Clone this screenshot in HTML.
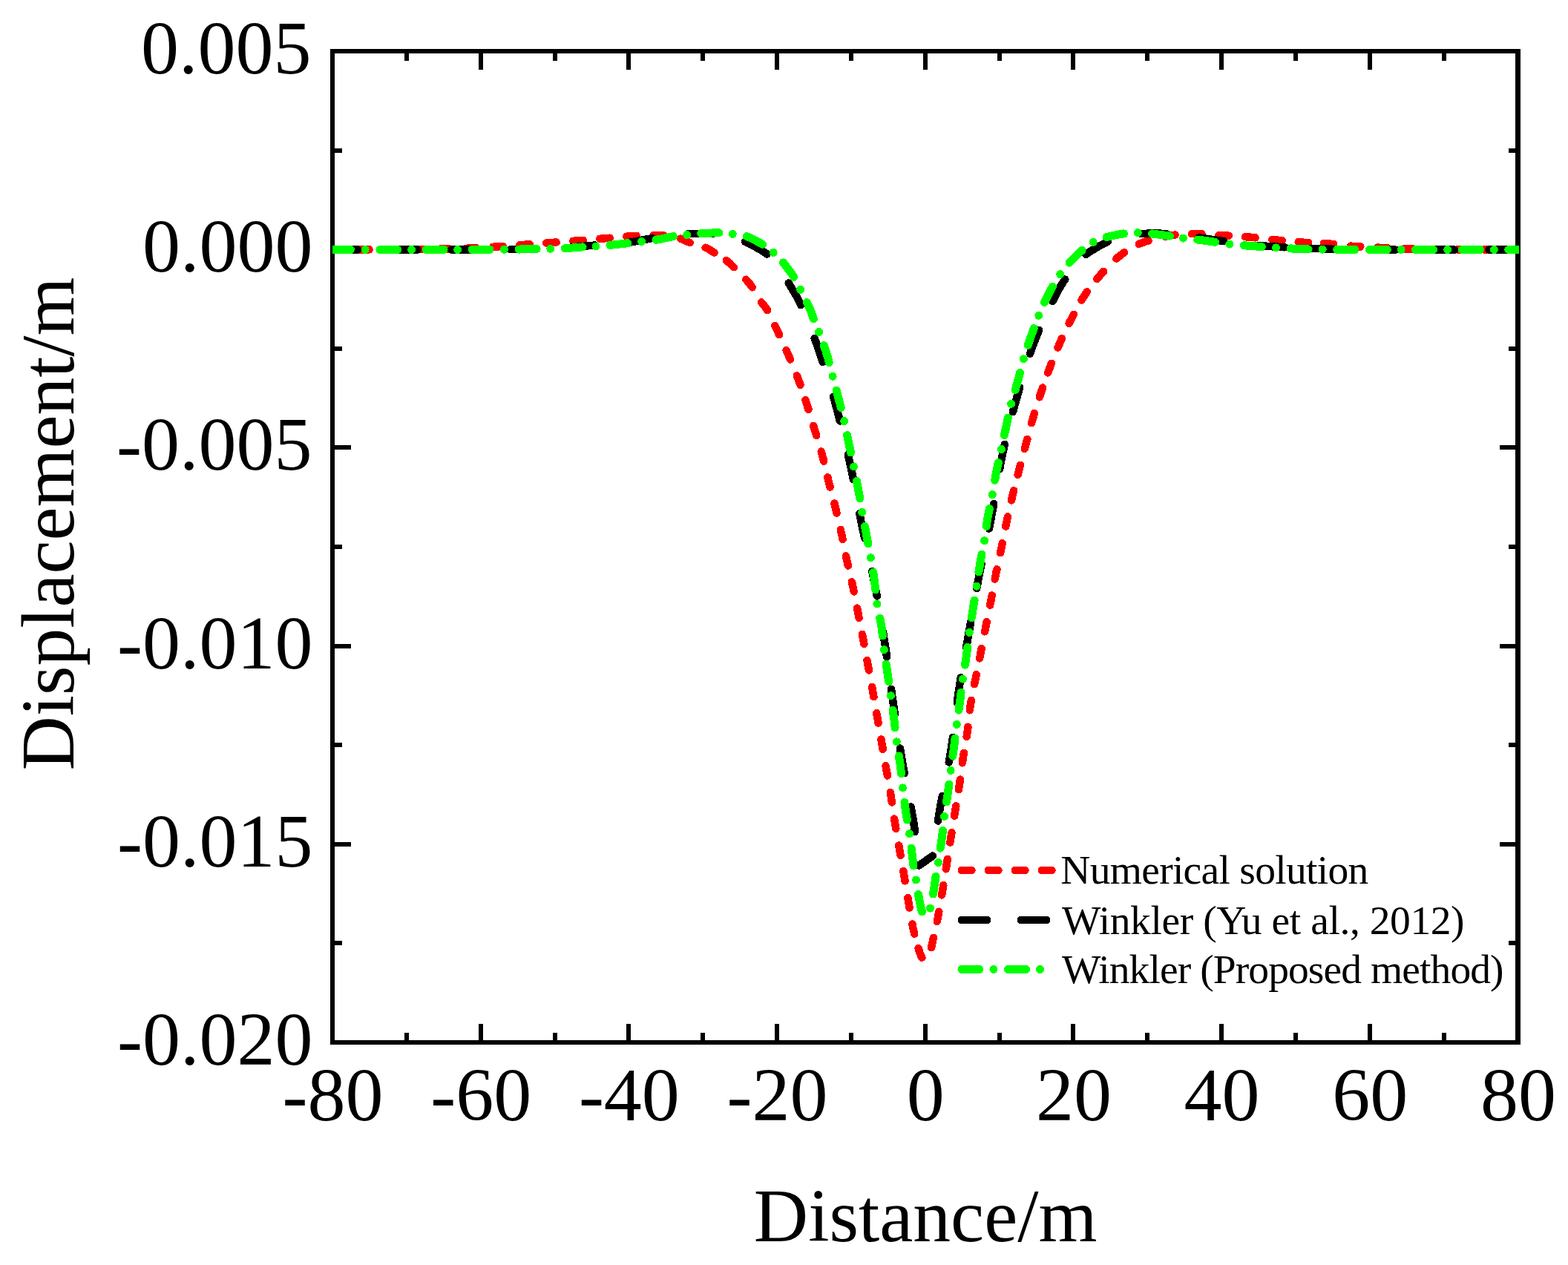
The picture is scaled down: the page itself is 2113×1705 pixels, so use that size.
<!DOCTYPE html>
<html><head><meta charset="utf-8"><title>Displacement vs Distance</title>
<style>
html,body{margin:0;padding:0;background:#fff;}
body{width:2113px;height:1705px;overflow:hidden;}
svg{display:block;}
text{font-family:"Liberation Serif","Times New Roman",serif;fill:#000;}
</style></head>
<body>
<svg width="2113" height="1705" viewBox="0 0 2113 1705" shape-rendering="crispEdges">
<rect width="2113" height="1705" fill="#fff"/>
<defs><clipPath id="pc"><rect x="448.0" y="0" width="1599.0" height="1705"/></clipPath></defs>
<g stroke="#000" stroke-width="6" fill="none">
<path d="M448.0,66.0V1408.0M445.0,69.0H2049.0M445.0,1405.0H2049.0"/><line x1="2045.5" y1="66.0" x2="2045.5" y2="1408.0" stroke-width="7"/>
<line x1="448.00" y1="1405.0" x2="448.00" y2="1380.0"/><line x1="448.00" y1="69.0" x2="448.00" y2="94.0"/><line x1="647.69" y1="1405.0" x2="647.69" y2="1380.0"/><line x1="647.69" y1="69.0" x2="647.69" y2="94.0"/><line x1="847.38" y1="1405.0" x2="847.38" y2="1380.0"/><line x1="847.38" y1="69.0" x2="847.38" y2="94.0"/><line x1="1047.06" y1="1405.0" x2="1047.06" y2="1380.0"/><line x1="1047.06" y1="69.0" x2="1047.06" y2="94.0"/><line x1="1246.75" y1="1405.0" x2="1246.75" y2="1380.0"/><line x1="1246.75" y1="69.0" x2="1246.75" y2="94.0"/><line x1="1446.44" y1="1405.0" x2="1446.44" y2="1380.0"/><line x1="1446.44" y1="69.0" x2="1446.44" y2="94.0"/><line x1="1646.12" y1="1405.0" x2="1646.12" y2="1380.0"/><line x1="1646.12" y1="69.0" x2="1646.12" y2="94.0"/><line x1="1845.81" y1="1405.0" x2="1845.81" y2="1380.0"/><line x1="1845.81" y1="69.0" x2="1845.81" y2="94.0"/><line x1="2045.50" y1="1405.0" x2="2045.50" y2="1380.0"/><line x1="2045.50" y1="69.0" x2="2045.50" y2="94.0"/><line x1="547.84" y1="1405.0" x2="547.84" y2="1392.0"/><line x1="547.84" y1="69.0" x2="547.84" y2="82.0"/><line x1="747.53" y1="1405.0" x2="747.53" y2="1392.0"/><line x1="747.53" y1="69.0" x2="747.53" y2="82.0"/><line x1="947.22" y1="1405.0" x2="947.22" y2="1392.0"/><line x1="947.22" y1="69.0" x2="947.22" y2="82.0"/><line x1="1146.91" y1="1405.0" x2="1146.91" y2="1392.0"/><line x1="1146.91" y1="69.0" x2="1146.91" y2="82.0"/><line x1="1346.59" y1="1405.0" x2="1346.59" y2="1392.0"/><line x1="1346.59" y1="69.0" x2="1346.59" y2="82.0"/><line x1="1546.28" y1="1405.0" x2="1546.28" y2="1392.0"/><line x1="1546.28" y1="69.0" x2="1546.28" y2="82.0"/><line x1="1745.97" y1="1405.0" x2="1745.97" y2="1392.0"/><line x1="1745.97" y1="69.0" x2="1745.97" y2="82.0"/><line x1="1945.66" y1="1405.0" x2="1945.66" y2="1392.0"/><line x1="1945.66" y1="69.0" x2="1945.66" y2="82.0"/><line x1="448.0" y1="69.00" x2="473.0" y2="69.00"/><line x1="2045.5" y1="69.00" x2="2020.5" y2="69.00"/><line x1="448.0" y1="336.20" x2="473.0" y2="336.20"/><line x1="2045.5" y1="336.20" x2="2020.5" y2="336.20"/><line x1="448.0" y1="603.40" x2="473.0" y2="603.40"/><line x1="2045.5" y1="603.40" x2="2020.5" y2="603.40"/><line x1="448.0" y1="870.60" x2="473.0" y2="870.60"/><line x1="2045.5" y1="870.60" x2="2020.5" y2="870.60"/><line x1="448.0" y1="1137.80" x2="473.0" y2="1137.80"/><line x1="2045.5" y1="1137.80" x2="2020.5" y2="1137.80"/><line x1="448.0" y1="1405.00" x2="473.0" y2="1405.00"/><line x1="2045.5" y1="1405.00" x2="2020.5" y2="1405.00"/><line x1="448.0" y1="202.60" x2="461.0" y2="202.60"/><line x1="2045.5" y1="202.60" x2="2032.5" y2="202.60"/><line x1="448.0" y1="469.80" x2="461.0" y2="469.80"/><line x1="2045.5" y1="469.80" x2="2032.5" y2="469.80"/><line x1="448.0" y1="737.00" x2="461.0" y2="737.00"/><line x1="2045.5" y1="737.00" x2="2032.5" y2="737.00"/><line x1="448.0" y1="1004.20" x2="461.0" y2="1004.20"/><line x1="2045.5" y1="1004.20" x2="2032.5" y2="1004.20"/><line x1="448.0" y1="1271.40" x2="461.0" y2="1271.40"/><line x1="2045.5" y1="1271.40" x2="2032.5" y2="1271.40"/>
</g>
<g clip-path="url(#pc)" fill="none" stroke-linecap="round" stroke-linejoin="round">
<path d="M448.0 336.5L450.0 336.5L452.0 336.5L454.0 336.5L456.0 336.5L458.0 336.5L460.0 336.5L461.5 336.5M484.1 336.5L486.1 336.5L488.1 336.5L490.1 336.5L492.1 336.5L494.1 336.5L496.1 336.5L497.6 336.4M520.1 336.4L522.1 336.4L524.1 336.4L526.1 336.4L528.1 336.4L530.1 336.4L532.1 336.3L533.6 336.3M556.2 336.1L558.2 336.1L560.2 336.1L562.2 336.1L564.2 336.1L566.2 336.0L568.2 336.0L569.7 336.0M592.2 335.7L594.2 335.7L596.2 335.7L598.2 335.6L600.2 335.6L602.2 335.6L604.2 335.5L605.7 335.5M628.3 334.8L630.3 334.7L632.3 334.6L634.3 334.5L636.2 334.4L638.2 334.3L640.2 334.2L641.7 334.2M664.3 332.8L666.3 332.7L668.3 332.6L670.3 332.4L672.2 332.3L674.2 332.2L676.2 332.1L677.7 331.9M700.3 330.3L702.3 330.2L704.3 330.0L706.3 329.9L708.2 329.7L710.2 329.6L712.2 329.4L713.7 329.3M736.3 327.5L738.3 327.4L740.3 327.2L742.3 327.1L744.2 326.9L746.2 326.8L748.2 326.6L749.7 326.5M772.3 324.8L774.3 324.7L776.3 324.5L778.3 324.4L780.2 324.2L782.2 324.0L784.2 323.9L785.7 323.8M808.3 321.9L810.3 321.7L812.3 321.5L814.3 321.4L816.2 321.2L818.2 321.0L820.2 320.9L821.7 320.7M844.3 318.8L846.3 318.6L848.3 318.5L850.3 318.4L852.2 318.2L854.2 318.1L856.2 317.9L857.7 317.8M880.9 316.8L882.9 316.8L884.9 316.9L886.9 316.9L888.9 317.0L890.9 317.1L892.9 317.3L894.4 317.4M917.2 321.6L919.1 322.3L920.9 323.1L922.7 324.0L924.5 324.9L926.3 325.7L928.2 326.5L929.6 327.0M950.7 333.7L952.6 334.5L954.3 335.4L956.1 336.4L957.8 337.5L959.4 338.6L961.1 339.7L962.4 340.5M978.9 351.0L980.5 352.3L982.0 353.6L983.5 354.9L984.9 356.4L986.3 357.8L987.7 359.2L988.8 360.3M1005.3 376.7L1006.7 378.2L1008.0 379.7L1009.3 381.2L1010.6 382.8L1011.7 384.4L1012.9 386.1L1013.7 387.3M1026.0 407.4L1027.2 409.0L1028.4 410.6L1029.7 412.1L1031.0 413.6L1032.2 415.2L1033.3 416.9L1034.1 418.1M1044.3 438.9L1045.2 440.7L1046.0 442.5L1046.9 444.3L1047.7 446.1L1048.6 447.9L1049.4 449.8L1050.1 451.1M1059.6 472.1L1060.4 473.9L1061.2 475.8L1062.0 477.6L1062.8 479.4L1063.6 481.3L1064.4 483.1L1064.9 484.5M1073.8 506.2L1074.5 508.1L1075.2 509.9L1075.9 511.8L1076.6 513.7L1077.3 515.5L1078.0 517.4L1078.5 518.8M1085.3 539.1L1085.9 541.0L1086.6 542.9L1087.2 544.8L1087.8 546.7L1088.4 548.6L1089.0 550.5L1089.5 551.9M1096.2 573.9L1096.8 575.9L1097.4 577.8L1098.0 579.7L1098.6 581.6L1099.1 583.5L1099.7 585.4L1100.2 586.9M1106.7 608.6L1107.2 610.5L1107.8 612.4L1108.3 614.4L1108.8 616.3L1109.3 618.2L1109.8 620.2L1110.2 621.6M1115.3 643.3L1115.8 645.3L1116.2 647.2L1116.7 649.2L1117.2 651.1L1117.7 653.1L1118.2 655.0L1118.6 656.4M1124.4 678.4L1124.8 680.3L1125.3 682.2L1125.8 684.2L1126.3 686.1L1126.8 688.1L1127.2 690.0L1127.6 691.5M1132.8 713.9L1133.2 715.9L1133.6 717.8L1134.0 719.8L1134.5 721.7L1134.9 723.7L1135.3 725.6L1135.6 727.1M1140.0 749.3L1140.4 751.3L1140.8 753.2L1141.2 755.2L1141.7 757.1L1142.1 759.1L1142.5 761.0L1142.9 762.5M1147.9 784.2L1148.3 786.2L1148.7 788.1L1149.1 790.1L1149.6 792.0L1150.0 794.0L1150.4 795.9L1150.7 797.4M1155.0 819.6L1155.4 821.5L1155.8 823.5L1156.2 825.5L1156.5 827.4L1156.9 829.4L1157.3 831.4L1157.6 832.8M1161.9 854.9L1162.3 856.8L1162.7 858.8L1163.1 860.8L1163.4 862.7L1163.8 864.7L1164.2 866.7L1164.4 868.1M1168.5 890.2L1168.8 892.1L1169.2 894.1L1169.6 896.1L1169.9 898.0L1170.3 900.0L1170.7 902.0L1170.9 903.4M1175.1 926.0L1175.5 927.9L1175.8 929.9L1176.2 931.9L1176.5 933.8L1176.9 935.8L1177.2 937.8L1177.5 939.2M1181.3 961.2L1181.6 963.2L1181.9 965.2L1182.3 967.2L1182.6 969.1L1183.0 971.1L1183.3 973.1L1183.6 974.5M1187.4 996.6L1187.8 998.5L1188.1 1000.5L1188.5 1002.5L1188.8 1004.4L1189.2 1006.4L1189.5 1008.4L1189.7 1009.9M1193.6 1032.1L1193.9 1034.1L1194.2 1036.1L1194.6 1038.1L1194.9 1040.0L1195.3 1042.0L1195.6 1044.0L1195.9 1045.5M1199.8 1068.0L1200.1 1070.0L1200.5 1072.0L1200.8 1074.0L1201.1 1075.9L1201.4 1077.9L1201.7 1079.9L1201.9 1081.4M1205.2 1103.6L1205.5 1105.6L1205.8 1107.6L1206.1 1109.6L1206.4 1111.5L1206.7 1113.5L1207.1 1115.5L1207.3 1117.0M1211.2 1139.5L1211.6 1141.4L1211.9 1143.4L1212.3 1145.4L1212.6 1147.3L1213.0 1149.3L1213.3 1151.3L1213.6 1152.8M1217.3 1174.0L1217.6 1176.0L1217.9 1178.0L1218.3 1180.0L1218.6 1181.9L1218.9 1183.9L1219.3 1185.9L1219.5 1187.4M1223.4 1210.2L1223.7 1212.2L1224.0 1214.2L1224.4 1216.2L1224.7 1218.1L1225.0 1220.1L1225.4 1222.1L1225.6 1223.6M1229.4 1245.4L1229.7 1247.3L1230.1 1249.3L1230.5 1251.3L1231.0 1253.2L1231.4 1255.2L1231.9 1257.1L1232.2 1258.6M1237.6 1278.2L1238.2 1280.1L1238.8 1282.0L1239.4 1283.9L1240.1 1285.8L1240.8 1287.6L1241.7 1289.4L1242.4 1290.7M1255.1 1277.1L1255.5 1275.1L1255.9 1273.1L1256.3 1271.2L1256.8 1269.2L1257.2 1267.3L1257.6 1265.3L1257.9 1263.8M1262.8 1241.9L1263.2 1240.0L1263.6 1238.0L1264.0 1236.0L1264.3 1234.1L1264.7 1232.1L1265.1 1230.1L1265.3 1228.7M1269.1 1206.4L1269.4 1204.4L1269.8 1202.4L1270.1 1200.4L1270.4 1198.5L1270.7 1196.5L1271.0 1194.5L1271.3 1193.0M1274.7 1171.3L1275.1 1169.3L1275.4 1167.3L1275.7 1165.3L1276.0 1163.4L1276.3 1161.4L1276.6 1159.4L1276.8 1157.9M1280.3 1135.6L1280.7 1133.6L1281.0 1131.6L1281.3 1129.6L1281.6 1127.7L1281.9 1125.7L1282.2 1123.7L1282.5 1122.2M1286.1 1099.8L1286.4 1097.8L1286.8 1095.8L1287.1 1093.8L1287.4 1091.9L1287.7 1089.9L1288.0 1087.9L1288.3 1086.4M1291.9 1064.1L1292.2 1062.1L1292.5 1060.1L1292.8 1058.1L1293.1 1056.2L1293.4 1054.2L1293.6 1052.2L1293.9 1050.7M1296.8 1028.3L1297.1 1026.3L1297.4 1024.3L1297.7 1022.3L1298.0 1020.4L1298.3 1018.4L1298.6 1016.4L1298.9 1014.9M1302.6 993.1L1302.9 991.1L1303.2 989.1L1303.5 987.1L1303.8 985.2L1304.0 983.2L1304.3 981.2L1304.4 979.7M1306.8 957.3L1307.0 955.3L1307.3 953.3L1307.6 951.3L1307.9 949.4L1308.2 947.4L1308.6 945.4L1308.8 943.9M1313.1 922.3L1313.5 920.3L1313.9 918.4L1314.3 916.4L1314.7 914.5L1315.1 912.5L1315.5 910.5L1315.8 909.1M1320.1 887.4L1320.5 885.5L1320.9 883.5L1321.3 881.5L1321.6 879.6L1322.0 877.6L1322.4 875.6L1322.7 874.2M1327.1 851.3L1327.5 849.4L1327.9 847.4L1328.3 845.4L1328.6 843.5L1329.0 841.5L1329.4 839.5L1329.7 838.1M1334.1 815.7L1334.5 813.8L1334.9 811.8L1335.3 809.8L1335.6 807.9L1336.0 805.9L1336.4 803.9L1336.7 802.5M1340.7 780.5L1341.1 778.6L1341.5 776.6L1341.9 774.6L1342.2 772.7L1342.6 770.7L1343.1 768.8L1343.4 767.3M1348.1 745.3L1348.5 743.3L1348.9 741.4L1349.3 739.4L1349.8 737.5L1350.1 735.5L1350.5 733.6L1350.8 732.1M1355.2 709.6L1355.6 707.7L1356.0 705.7L1356.4 703.7L1356.9 701.8L1357.3 699.8L1357.7 697.9L1358.0 696.4M1362.9 674.4L1363.4 672.4L1363.9 670.5L1364.3 668.5L1364.8 666.6L1365.3 664.6L1365.7 662.7L1366.1 661.2M1371.6 639.9L1372.1 638.0L1372.6 636.1L1373.1 634.1L1373.6 632.2L1374.1 630.3L1374.6 628.3L1375.0 626.9M1380.8 604.9L1381.3 603.0L1381.9 601.0L1382.4 599.1L1382.9 597.2L1383.4 595.2L1383.9 593.3L1384.3 591.9M1390.1 570.1L1390.7 568.2L1391.2 566.2L1391.8 564.3L1392.4 562.4L1392.9 560.5L1393.5 558.6L1393.9 557.1M1400.8 535.3L1401.4 533.4L1402.0 531.5L1402.7 529.6L1403.3 527.7L1403.9 525.8L1404.6 523.9L1405.1 522.5M1412.1 502.4L1412.8 500.5L1413.5 498.7L1414.2 496.8L1414.9 494.9L1415.7 493.1L1416.4 491.2L1416.9 489.8M1425.5 468.5L1426.3 466.7L1427.1 464.8L1427.9 463.0L1428.7 461.2L1429.5 459.3L1430.3 457.5L1431.0 456.1M1440.7 435.8L1441.6 434.0L1442.5 432.2L1443.5 430.5L1444.4 428.7L1445.3 426.9L1446.2 425.1L1446.9 423.8M1457.4 404.6L1458.4 402.9L1459.5 401.2L1460.6 399.5L1461.7 397.9L1462.8 396.2L1463.9 394.5L1464.8 393.3M1478.2 376.0L1479.5 374.5L1480.8 373.0L1482.1 371.5L1483.4 370.0L1484.8 368.5L1486.1 367.0L1487.1 365.9M1504.4 348.6L1505.9 347.3L1507.5 346.0L1509.0 344.8L1510.6 343.5L1512.2 342.3L1513.8 341.1L1515.0 340.2M1534.8 328.9L1536.7 328.1L1538.5 327.4L1540.4 326.7L1542.3 326.0L1544.2 325.4L1546.1 324.8L1547.5 324.3M1570.3 318.8L1572.2 318.4L1574.2 318.1L1576.2 317.7L1578.1 317.4L1580.1 317.1L1582.1 316.8L1583.6 316.6M1606.1 315.1L1608.1 315.0L1610.1 315.0L1612.1 315.0L1614.0 315.0L1616.0 315.0L1618.0 315.1L1619.5 315.1M1642.5 316.8L1644.5 317.0L1646.5 317.1L1648.5 317.3L1650.4 317.4L1652.4 317.5L1654.4 317.6L1655.9 317.7M1678.1 319.2L1680.1 319.3L1682.1 319.5L1684.1 319.6L1686.0 319.8L1688.0 320.0L1690.0 320.2L1691.5 320.3M1714.4 322.9L1716.4 323.1L1718.4 323.3L1720.4 323.5L1722.3 323.7L1724.3 323.9L1726.3 324.1L1727.8 324.3M1749.7 326.2L1751.7 326.4L1753.7 326.5L1755.7 326.6L1757.6 326.8L1759.6 326.9L1761.6 327.0L1763.1 327.1M1783.8 328.1L1785.8 328.2L1787.8 328.3L1789.8 328.4L1791.7 328.6L1793.7 328.8L1795.7 329.0L1797.2 329.1M1819.8 331.6L1821.8 331.8L1823.8 331.9L1825.8 332.1L1827.8 332.2L1829.8 332.3L1831.8 332.4L1833.3 332.5M1856.0 333.6L1858.0 333.7L1860.0 333.8L1862.0 333.9L1864.0 334.0L1866.0 334.1L1868.0 334.2L1869.5 334.3M1892.2 335.3L1894.2 335.4L1896.2 335.5L1898.2 335.5L1900.2 335.6L1902.1 335.6L1904.1 335.7L1905.6 335.7M1928.1 336.1L1930.1 336.1L1932.1 336.2L1934.1 336.2L1936.1 336.2L1938.1 336.2L1940.1 336.2L1941.6 336.2M1964.1 336.4L1966.1 336.4L1968.1 336.4L1970.1 336.4L1972.1 336.4L1974.1 336.4L1976.1 336.4L1977.6 336.4M2000.1 336.4L2002.1 336.4L2004.1 336.4L2006.1 336.4L2008.1 336.5L2010.1 336.5L2012.1 336.5L2013.6 336.5M2036.1 336.5L2038.1 336.5L2040.1 336.5L2042.1 336.5L2044.1 336.5L2046.1 336.5L2047.0 336.5" stroke="#ff0000" stroke-width="10.5"/>
<path d="M448.0 336.5L450.0 336.5L452.0 336.5L454.0 336.5L456.0 336.5L458.0 336.5L460.0 336.5L462.0 336.5L464.0 336.5L466.0 336.5L468.0 336.5L470.0 336.5L472.0 336.5L474.0 336.5L476.0 336.5L478.0 336.5L480.0 336.5L482.0 336.5M528.5 336.5L530.5 336.5L532.5 336.5L534.5 336.5L536.5 336.5L538.5 336.5L540.5 336.5L542.5 336.5L544.5 336.5L546.5 336.5L548.5 336.5L550.5 336.5L552.5 336.5L554.5 336.5L556.5 336.5L558.5 336.5L560.5 336.5L562.5 336.5M608.0 336.5L610.0 336.5L612.0 336.5L614.0 336.5L616.0 336.5L618.0 336.5L620.0 336.4L622.0 336.4L624.0 336.4L626.0 336.4L628.0 336.4L630.0 336.4L632.0 336.4L634.0 336.4L636.0 336.4L638.0 336.4L640.0 336.4L642.0 336.4M688.0 336.2L690.0 336.2L692.0 336.2L694.0 336.2L696.0 336.1L698.0 336.1L700.0 336.0L702.0 335.9L704.0 335.9L706.0 335.8L708.0 335.7L710.0 335.6L712.0 335.6L714.0 335.6L716.0 335.5L718.0 335.5L720.0 335.5L722.0 335.5M768.3 333.8L770.2 333.6L772.2 333.4L774.2 333.2L776.2 332.9L778.2 332.7L780.2 332.5L782.2 332.3L784.2 332.1L786.1 331.9L788.1 331.7L790.1 331.5L792.1 331.3L794.1 331.1L796.1 331.0L798.1 330.8L800.1 330.7L802.1 330.6M845.4 327.1L847.4 326.8L849.4 326.5L851.4 326.2L853.3 325.9L855.3 325.5L857.3 325.2L859.2 324.8L861.2 324.4L863.2 324.1L865.1 323.7L867.1 323.3L869.0 322.9L871.0 322.5L873.0 322.2L874.9 321.8L876.9 321.4L878.9 321.1M926.9 315.2L928.9 315.2L930.9 315.1L932.9 315.0L934.9 315.0L936.9 314.9L938.9 314.9L940.9 314.9L942.9 314.9L944.9 314.9L946.9 314.9L948.9 314.9L950.9 314.9L952.9 314.9L954.9 314.9L956.9 314.9L958.9 314.9L960.9 315.0M1004.0 325.8L1005.8 326.7L1007.6 327.6L1009.4 328.5L1011.2 329.4L1013.0 330.3L1014.8 331.2L1016.5 332.1L1018.3 333.0L1020.1 334.0L1021.8 334.9L1023.6 335.9L1025.3 337.0L1027.0 338.0L1028.7 339.1L1030.3 340.2L1032.0 341.3L1033.5 342.6M1062.7 381.6L1063.7 383.3L1064.8 385.0L1065.8 386.7L1066.9 388.4L1067.9 390.1L1069.0 391.8L1070.0 393.5L1071.0 395.2L1072.0 396.9L1073.0 398.7L1074.0 400.4L1074.9 402.2L1075.8 404.0L1076.7 405.8L1077.6 407.6L1078.4 409.4L1079.3 411.2M1097.7 455.8L1098.3 457.7L1099.0 459.6L1099.7 461.4L1100.4 463.3L1101.1 465.2L1101.8 467.1L1102.4 469.0L1103.1 470.9L1103.7 472.7L1104.4 474.6L1105.0 476.5L1105.7 478.4L1106.3 480.3L1106.9 482.2L1107.5 484.1L1108.2 486.0L1108.8 487.9M1123.0 534.6L1123.6 536.5L1124.1 538.5L1124.7 540.4L1125.2 542.3L1125.7 544.3L1126.3 546.2L1126.8 548.1L1127.3 550.0L1127.9 552.0L1128.4 553.9L1128.9 555.8L1129.4 557.8L1129.9 559.7L1130.4 561.6L1130.9 563.6L1131.4 565.5L1131.9 567.4M1142.8 613.0L1143.3 615.0L1143.7 616.9L1144.1 618.9L1144.6 620.8L1145.0 622.8L1145.4 624.7L1145.9 626.7L1146.3 628.7L1146.7 630.6L1147.1 632.6L1147.5 634.5L1147.9 636.5L1148.4 638.4L1148.8 640.4L1149.2 642.4L1149.5 644.3L1149.9 646.3M1158.4 692.0L1158.7 694.0L1159.1 695.9L1159.5 697.9L1159.8 699.9L1160.2 701.8L1160.6 703.8L1161.0 705.8L1161.4 707.7L1161.8 709.7L1162.2 711.6L1162.6 713.6L1163.0 715.6L1163.5 717.5L1163.9 719.5L1164.3 721.4L1164.7 723.4L1165.2 725.3M1175.2 770.0L1175.7 772.0L1176.1 774.0L1176.5 775.9L1176.9 777.9L1177.3 779.8L1177.7 781.8L1178.1 783.8L1178.5 785.7L1178.8 787.7L1179.2 789.6L1179.6 791.6L1180.0 793.6L1180.3 795.5L1180.7 797.5L1181.1 799.5L1181.4 801.4L1181.8 803.4M1190.0 852.0L1190.3 854.0L1190.6 856.0L1190.9 857.9L1191.2 859.9L1191.5 861.9L1191.9 863.9L1192.2 865.8L1192.5 867.8L1192.8 869.8L1193.1 871.8L1193.4 873.7L1193.7 875.7L1194.0 877.7L1194.3 879.7L1194.5 881.7L1194.8 883.6L1195.1 885.6M1201.0 928.9L1201.3 930.9L1201.6 932.8L1201.8 934.8L1202.1 936.8L1202.4 938.8L1202.7 940.8L1203.0 942.7L1203.3 944.7L1203.5 946.7L1203.8 948.7L1204.1 950.6L1204.4 952.6L1204.7 954.6L1205.0 956.6L1205.3 958.6L1205.6 960.5L1205.9 962.5M1212.9 1008.6L1213.2 1010.6L1213.6 1012.6L1213.9 1014.6L1214.2 1016.5L1214.5 1018.5L1214.9 1020.5L1215.2 1022.4L1215.5 1024.4L1215.9 1026.4L1216.2 1028.4L1216.6 1030.3L1216.9 1032.3L1217.3 1034.3L1217.6 1036.2L1218.0 1038.2L1218.3 1040.2L1218.7 1042.1M1227.5 1087.5L1227.8 1089.4L1228.2 1091.4L1228.6 1093.4L1228.9 1095.3L1229.3 1097.3L1229.6 1099.3L1230.0 1101.2L1230.3 1103.2L1230.7 1105.2L1231.0 1107.2L1231.3 1109.1L1231.6 1111.1L1231.9 1113.1L1232.2 1115.1L1232.4 1117.1L1232.7 1119.0L1232.9 1121.0M1264.0 1106.5L1264.3 1104.5L1264.6 1102.5L1264.9 1100.5L1265.2 1098.6L1265.6 1096.6L1265.9 1094.6L1266.2 1092.6L1266.5 1090.7L1266.9 1088.7L1267.2 1086.7L1267.6 1084.8L1267.9 1082.8L1268.3 1080.8L1268.7 1078.9L1269.1 1076.9L1269.4 1074.9L1269.8 1073.0M1278.7 1027.4L1279.0 1025.4L1279.4 1023.4L1279.7 1021.4L1280.1 1019.5L1280.4 1017.5L1280.7 1015.5L1281.1 1013.6L1281.4 1011.6L1281.7 1009.6L1282.0 1007.6L1282.3 1005.7L1282.6 1003.7L1282.9 1001.7L1283.1 999.7L1283.4 997.7L1283.7 995.8L1284.0 993.8M1289.8 946.9L1290.0 945.0L1290.3 943.0L1290.5 941.0L1290.8 939.0L1291.1 937.0L1291.4 935.0L1291.7 933.1L1292.0 931.1L1292.3 929.1L1292.6 927.1L1292.9 925.2L1293.2 923.2L1293.5 921.2L1293.8 919.2L1294.1 917.3L1294.5 915.3L1294.8 913.3M1302.1 872.5L1302.5 870.5L1302.8 868.6L1303.2 866.6L1303.6 864.6L1303.9 862.7L1304.3 860.7L1304.6 858.7L1305.0 856.8L1305.3 854.8L1305.6 852.8L1306.0 850.9L1306.3 848.9L1306.7 846.9L1307.0 844.9L1307.4 843.0L1307.7 841.0L1308.0 839.0M1316.2 792.9L1316.5 790.9L1316.9 789.0L1317.3 787.0L1317.6 785.1L1318.0 783.1L1318.4 781.1L1318.8 779.2L1319.1 777.2L1319.5 775.2L1319.9 773.3L1320.3 771.3L1320.7 769.3L1321.1 767.4L1321.5 765.4L1321.9 763.5L1322.3 761.5L1322.7 759.6M1332.8 712.5L1333.2 710.5L1333.6 708.6L1334.0 706.6L1334.4 704.7L1334.8 702.7L1335.2 700.7L1335.6 698.8L1335.9 696.8L1336.3 694.8L1336.7 692.9L1337.1 690.9L1337.4 688.9L1337.8 687.0L1338.2 685.0L1338.5 683.0L1338.8 681.1L1339.2 679.1M1347.1 632.3L1347.4 630.3L1347.8 628.3L1348.1 626.4L1348.5 624.4L1348.9 622.4L1349.3 620.5L1349.7 618.5L1350.1 616.5L1350.5 614.6L1350.9 612.6L1351.3 610.7L1351.7 608.7L1352.2 606.8L1352.6 604.8L1353.0 602.9L1353.5 600.9L1353.9 599.0M1365.0 555.0L1365.5 553.1L1366.0 551.1L1366.5 549.2L1367.1 547.3L1367.6 545.3L1368.1 543.4L1368.7 541.5L1369.2 539.6L1369.8 537.6L1370.3 535.7L1370.9 533.8L1371.4 531.9L1371.9 529.9L1372.5 528.0L1373.0 526.1L1373.6 524.2L1374.1 522.2M1388.0 476.8L1388.7 474.9L1389.3 473.0L1390.0 471.1L1390.7 469.2L1391.3 467.4L1392.0 465.5L1392.7 463.6L1393.4 461.7L1394.2 459.9L1394.9 458.0L1395.6 456.1L1396.4 454.3L1397.1 452.4L1397.9 450.6L1398.7 448.7L1399.4 446.9L1400.2 445.1M1418.5 406.1L1419.4 404.3L1420.3 402.5L1421.2 400.7L1422.1 399.0L1423.0 397.2L1424.0 395.4L1424.9 393.6L1425.8 391.9L1426.8 390.1L1427.7 388.4L1428.7 386.6L1429.7 384.9L1430.8 383.2L1431.9 381.5L1433.0 379.8L1434.1 378.2L1435.3 376.6M1463.4 342.9L1465.0 341.8L1466.6 340.6L1468.3 339.5L1469.9 338.4L1471.6 337.3L1473.3 336.3L1475.1 335.3L1476.8 334.3L1478.5 333.3L1480.3 332.3L1482.0 331.3L1483.8 330.4L1485.5 329.4L1487.3 328.5L1489.1 327.6L1490.9 326.7L1492.7 325.8M1538.0 315.1L1540.0 315.0L1542.0 314.9L1544.0 314.8L1546.0 314.7L1548.0 314.6L1550.0 314.6L1552.0 314.5L1554.0 314.5L1556.0 314.5L1558.0 314.5L1560.0 314.5L1562.0 314.6L1564.0 314.7L1566.0 314.8L1567.9 314.9L1569.9 315.0L1571.9 315.2M1615.8 320.4L1617.8 320.7L1619.7 321.0L1621.7 321.2L1623.7 321.5L1625.7 321.8L1627.7 322.1L1629.6 322.4L1631.6 322.6L1633.6 322.9L1635.6 323.2L1637.6 323.5L1639.6 323.7L1641.5 324.0L1643.5 324.3L1645.5 324.6L1647.5 324.9L1649.5 325.1M1697.2 330.9L1699.2 331.1L1701.2 331.3L1703.2 331.5L1705.2 331.6L1707.2 331.8L1709.2 331.9L1711.2 332.1L1713.2 332.2L1715.2 332.3L1717.2 332.5L1719.2 332.6L1721.2 332.7L1723.2 332.8L1725.2 332.9L1727.2 333.0L1729.2 333.2L1731.2 333.3M1765.9 334.8L1767.9 334.9L1769.9 335.0L1771.9 335.0L1773.9 335.1L1775.9 335.2L1777.9 335.2L1779.9 335.3L1781.9 335.4L1783.9 335.4L1785.9 335.5L1787.9 335.6L1789.9 335.6L1791.9 335.7L1793.9 335.7L1795.9 335.8L1797.9 335.9L1799.9 335.9M1846.6 336.5L1848.6 336.5L1850.6 336.5L1852.6 336.5L1854.6 336.5L1856.6 336.5L1858.6 336.5L1860.6 336.5L1862.6 336.5L1864.6 336.5L1866.6 336.5L1868.6 336.6L1870.6 336.6L1872.6 336.6L1874.6 336.6L1876.6 336.6L1878.6 336.6L1880.6 336.6M1926.2 336.6L1928.2 336.6L1930.2 336.6L1932.2 336.6L1934.2 336.6L1936.2 336.6L1938.2 336.6L1940.2 336.6L1942.2 336.6L1944.2 336.6L1946.2 336.6L1948.2 336.6L1950.2 336.6L1952.2 336.6L1954.2 336.6L1956.2 336.6L1958.2 336.6L1960.2 336.6M2006.5 336.5L2008.5 336.5L2010.5 336.5L2012.5 336.5L2014.5 336.5L2016.5 336.5L2018.5 336.5L2020.5 336.5L2022.5 336.5L2024.5 336.5L2026.5 336.5L2028.5 336.5L2030.5 336.5L2032.5 336.5L2034.5 336.5L2036.5 336.5L2038.5 336.5L2040.5 336.5M1238.5 1166.5L1240.1 1165.4L1241.8 1164.2L1243.4 1163.1L1245.0 1161.9L1246.7 1160.8L1248.3 1159.6L1250.0 1158.5L1251.6 1157.3L1253.2 1156.2L1254.9 1155.0L1256.5 1153.9L1257.0 1153.5" stroke="#000000" stroke-width="10.5"/>
<path d="M448.4 336.5L450.4 336.5L452.4 336.5L454.4 336.5L456.4 336.5L458.4 336.5L460.4 336.5L462.4 336.5L464.4 336.5L466.4 336.5L468.4 336.5L470.4 336.5L472.4 336.5M511.9 336.5L513.9 336.5L515.9 336.5L517.9 336.5L519.9 336.5L521.9 336.5L523.9 336.5L525.9 336.5L527.9 336.5L529.9 336.5L531.9 336.5L533.9 336.5L535.9 336.5M574.1 336.5L576.1 336.5L578.1 336.5L580.1 336.5L582.1 336.5L584.1 336.5L586.1 336.5L588.1 336.5L590.1 336.5L592.1 336.5L594.1 336.5L596.1 336.5L598.1 336.5M636.0 336.4L638.0 336.4L640.0 336.4L642.0 336.4L644.0 336.4L646.0 336.4L648.0 336.4L650.0 336.4L652.0 336.4L654.0 336.4L656.0 336.4L658.0 336.4L660.0 336.4M699.1 336.0L701.1 336.0L703.1 335.9L705.1 335.8L707.1 335.7L709.1 335.7L711.1 335.6L713.1 335.6L715.1 335.6L717.1 335.5L719.1 335.5L721.1 335.5L723.1 335.5M761.2 334.7L763.2 334.6L765.2 334.4L767.2 334.3L769.1 334.2L771.1 334.0L773.1 333.9L775.1 333.7L777.1 333.6L779.1 333.4L781.1 333.2L783.1 333.1L785.1 332.9M822.0 330.4L824.0 330.2L826.0 330.0L828.0 329.8L830.0 329.6L832.0 329.3L833.9 329.1L835.9 328.9L837.9 328.7L839.9 328.4L841.9 328.2L843.9 328.0L845.9 327.7M884.0 323.3L886.0 323.0L888.0 322.7L889.9 322.3L891.9 321.9L893.8 321.5L895.8 321.0L897.7 320.6L899.7 320.2L901.6 319.7L903.6 319.3L905.6 318.9L907.5 318.6M944.8 314.6L946.8 314.5L948.8 314.4L950.8 314.3L952.8 314.2L954.8 314.2L956.8 314.1L958.8 314.0L960.8 313.9L962.8 313.8L964.8 313.8L966.8 313.7L968.8 313.8M1006.1 318.7L1008.0 319.4L1009.9 320.1L1011.7 320.9L1013.5 321.8L1015.3 322.7L1017.1 323.6L1018.9 324.5L1020.6 325.4L1022.4 326.4L1024.1 327.4L1025.8 328.4L1027.6 329.4M1055.6 354.0L1056.8 355.6L1058.1 357.2L1059.3 358.8L1060.5 360.4L1061.7 362.0L1062.9 363.6L1064.1 365.2L1065.2 366.8L1066.4 368.4L1067.5 370.1L1068.7 371.7L1069.8 373.4M1087.4 407.6L1088.2 409.4L1089.1 411.2L1089.9 413.0L1090.7 414.9L1091.5 416.7L1092.3 418.6L1093.0 420.4L1093.7 422.3L1094.4 424.2L1095.0 426.1L1095.7 427.9L1096.4 429.8M1110.3 465.6L1110.9 467.5L1111.6 469.4L1112.2 471.3L1112.9 473.2L1113.5 475.1L1114.1 477.0L1114.7 478.9L1115.3 480.8L1115.8 482.8L1116.3 484.7L1116.8 486.6L1117.3 488.6M1127.1 526.2L1127.7 528.2L1128.2 530.1L1128.7 532.0L1129.2 534.0L1129.7 535.9L1130.2 537.8L1130.7 539.8L1131.2 541.7L1131.7 543.6L1132.2 545.6L1132.7 547.5L1133.2 549.4M1141.6 586.5L1142.0 588.4L1142.4 590.4L1142.8 592.4L1143.2 594.3L1143.6 596.3L1144.0 598.2L1144.4 600.2L1144.8 602.2L1145.3 604.1L1145.7 606.1L1146.1 608.0L1146.5 610.0M1154.5 648.3L1154.8 650.3L1155.2 652.3L1155.6 654.2L1156.0 656.2L1156.3 658.1L1156.7 660.1L1157.0 662.1L1157.4 664.1L1157.7 666.0L1158.1 668.0L1158.4 670.0L1158.7 671.9M1165.4 709.4L1165.8 711.4L1166.1 713.3L1166.5 715.3L1166.9 717.2L1167.3 719.2L1167.7 721.2L1168.0 723.1L1168.4 725.1L1168.8 727.1L1169.2 729.0L1169.6 731.0L1169.9 733.0M1176.6 771.1L1176.9 773.1L1177.2 775.1L1177.5 777.1L1177.8 779.0L1178.1 781.0L1178.3 783.0L1178.6 785.0L1178.9 787.0L1179.1 789.0L1179.3 790.9L1179.5 792.9L1179.7 794.9M1185.7 833.3L1186.1 835.2L1186.5 837.2L1186.9 839.1L1187.2 841.1L1187.6 843.1L1187.9 845.1L1188.2 847.0L1188.5 849.0L1188.7 851.0L1189.0 853.0L1189.2 855.0L1189.4 857.0M1194.2 895.1L1194.5 897.1L1194.8 899.0L1195.1 901.0L1195.4 903.0L1195.7 905.0L1196.0 907.0L1196.3 908.9L1196.6 910.9L1196.8 912.9L1197.1 914.9L1197.4 916.9L1197.7 918.8M1203.1 957.0L1203.4 959.0L1203.7 961.0L1204.0 963.0L1204.2 964.9L1204.5 966.9L1204.7 968.9L1205.0 970.9L1205.2 972.9L1205.4 974.9L1205.7 976.8L1205.9 978.8L1206.1 980.8M1211.4 1019.0L1211.7 1021.0L1212.0 1023.0L1212.3 1025.0L1212.6 1026.9L1212.9 1028.9L1213.2 1030.9L1213.4 1032.9L1213.7 1034.9L1213.9 1036.8L1214.1 1038.8L1214.3 1040.8L1214.6 1042.8M1218.9 1081.3L1219.2 1083.3L1219.4 1085.3L1219.7 1087.3L1220.0 1089.3L1220.3 1091.2L1220.5 1093.2L1220.8 1095.2L1221.1 1097.2L1221.5 1099.1L1221.8 1101.1L1222.1 1103.1L1222.5 1105.1M1228.1 1143.0L1228.4 1145.0L1228.6 1147.0L1228.8 1149.0L1229.1 1150.9L1229.3 1152.9L1229.6 1154.9L1229.8 1156.9L1230.0 1158.9L1230.3 1160.9L1230.5 1162.9L1230.8 1164.8L1231.0 1166.8M1237.5 1205.5L1237.9 1207.4L1238.3 1209.4L1238.6 1211.4L1239.0 1213.3L1239.4 1215.3L1239.8 1217.3L1240.1 1219.2L1240.6 1221.2L1241.0 1223.1L1241.5 1225.1L1242.0 1227.0L1242.6 1228.9M1257.5 1205.0L1257.8 1203.0L1258.1 1201.0L1258.4 1199.1L1258.7 1197.1L1259.0 1195.1L1259.3 1193.1L1259.6 1191.1L1259.9 1189.2L1260.2 1187.2L1260.5 1185.2L1260.8 1183.2L1261.1 1181.3M1267.1 1143.1L1267.5 1141.2L1267.8 1139.2L1268.2 1137.2L1268.5 1135.3L1268.8 1133.3L1269.1 1131.3L1269.3 1129.3L1269.6 1127.3L1269.8 1125.3L1270.0 1123.4L1270.2 1121.4L1270.4 1119.4M1275.5 1080.9L1275.8 1079.0L1276.1 1077.0L1276.4 1075.0L1276.7 1073.0L1277.0 1071.1L1277.3 1069.1L1277.5 1067.1L1277.8 1065.1L1278.1 1063.1L1278.3 1061.1L1278.6 1059.2L1278.8 1057.2M1283.9 1019.1L1284.1 1017.1L1284.4 1015.2L1284.7 1013.2L1285.0 1011.2L1285.2 1009.2L1285.5 1007.2L1285.8 1005.3L1286.0 1003.3L1286.3 1001.3L1286.5 999.3L1286.8 997.3L1287.0 995.3M1292.0 957.1L1292.3 955.1L1292.6 953.2L1292.8 951.2L1293.1 949.2L1293.4 947.2L1293.7 945.2L1293.9 943.3L1294.2 941.3L1294.4 939.3L1294.6 937.3L1294.9 935.3L1295.1 933.3M1300.4 896.1L1300.8 894.1L1301.1 892.1L1301.4 890.2L1301.7 888.2L1302.0 886.2L1302.2 884.2L1302.5 882.2L1302.8 880.3L1303.0 878.3L1303.3 876.3L1303.5 874.3L1303.8 872.3M1309.3 832.7L1309.6 830.7L1310.0 828.7L1310.3 826.7L1310.6 824.8L1310.9 822.8L1311.2 820.8L1311.5 818.8L1311.8 816.9L1312.2 814.9L1312.5 812.9L1312.8 810.9L1313.1 809.0M1318.9 771.0L1319.2 769.0L1319.5 767.0L1319.9 765.1L1320.2 763.1L1320.5 761.1L1320.8 759.1L1321.2 757.2L1321.5 755.2L1321.9 753.2L1322.3 751.3L1322.7 749.3L1323.0 747.3M1329.3 709.4L1329.5 707.4L1329.8 705.4L1330.1 703.4L1330.4 701.4L1330.7 699.5L1331.0 697.5L1331.4 695.5L1331.7 693.6L1332.1 691.6L1332.5 689.6L1332.9 687.7L1333.3 685.7M1340.6 647.2L1341.0 645.2L1341.3 643.2L1341.6 641.3L1342.0 639.3L1342.4 637.3L1342.8 635.4L1343.2 633.4L1343.6 631.5L1344.0 629.5L1344.4 627.5L1344.9 625.6L1345.3 623.6M1353.4 586.7L1353.8 584.8L1354.2 582.8L1354.6 580.9L1355.0 578.9L1355.5 576.9L1355.9 575.0L1356.3 573.0L1356.7 571.1L1357.1 569.1L1357.5 567.2L1357.9 565.2L1358.3 563.2M1368.1 525.4L1368.7 523.5L1369.3 521.6L1369.8 519.7L1370.4 517.7L1371.0 515.8L1371.5 513.9L1372.0 512.0L1372.5 510.0L1373.1 508.1L1373.6 506.2L1374.0 504.2L1374.5 502.3M1385.3 465.2L1385.9 463.3L1386.6 461.4L1387.2 459.5L1387.9 457.6L1388.5 455.7L1389.2 453.8L1389.9 451.9L1390.5 450.0L1391.2 448.2L1391.8 446.3L1392.5 444.4L1393.2 442.5M1407.5 407.7L1408.4 405.9L1409.2 404.1L1410.1 402.3L1411.0 400.5L1411.9 398.7L1412.8 396.9L1413.7 395.1L1414.6 393.4L1415.5 391.6L1416.5 389.8L1417.4 388.1L1418.3 386.3M1441.0 354.2L1442.4 352.7L1443.7 351.2L1445.1 349.8L1446.5 348.3L1447.9 346.9L1449.3 345.5L1450.7 344.1L1452.2 342.7L1453.7 341.4L1455.1 340.0L1456.6 338.7L1458.1 337.4M1491.1 319.6L1493.1 319.1L1495.0 318.7L1497.0 318.2L1498.9 317.8L1500.9 317.4L1502.8 317.0L1504.8 316.6L1506.7 316.2L1508.7 315.8L1510.7 315.5L1512.7 315.2L1514.6 314.9M1552.6 315.0L1554.5 315.2L1556.5 315.5L1558.5 315.7L1560.5 316.0L1562.5 316.2L1564.5 316.5L1566.5 316.7L1568.4 317.0L1570.4 317.2L1572.4 317.5L1574.4 317.8L1576.4 318.1M1613.7 323.1L1615.6 323.3L1617.6 323.6L1619.6 323.8L1621.6 324.0L1623.6 324.3L1625.6 324.5L1627.6 324.8L1629.5 325.1L1631.5 325.4L1633.5 325.7L1635.5 326.0L1637.4 326.3M1676.5 330.8L1678.5 330.9L1680.5 331.1L1682.5 331.2L1684.5 331.3L1686.5 331.5L1688.4 331.6L1690.4 331.8L1692.4 331.9L1694.4 332.1L1696.4 332.2L1698.4 332.4L1700.4 332.6M1739.1 334.9L1741.1 335.0L1743.1 335.1L1745.1 335.2L1747.1 335.2L1749.1 335.3L1751.1 335.4L1753.1 335.5L1755.1 335.5L1757.1 335.6L1759.1 335.7L1761.1 335.8L1763.1 335.8M1801.8 336.4L1803.8 336.4L1805.8 336.4L1807.8 336.4L1809.8 336.4L1811.8 336.4L1813.8 336.4L1815.8 336.4L1817.8 336.4L1819.8 336.4L1821.8 336.5L1823.8 336.5L1825.8 336.5M1845.3 336.5L1847.3 336.5L1849.3 336.5L1851.3 336.5L1853.3 336.5L1855.3 336.5L1857.3 336.5L1859.3 336.5L1861.3 336.5L1863.3 336.5L1865.3 336.5L1867.3 336.5L1869.3 336.5M1907.5 336.5L1909.5 336.5L1911.5 336.5L1913.5 336.5L1915.5 336.5L1917.5 336.5L1919.5 336.5L1921.5 336.5L1923.5 336.5L1925.5 336.5L1927.5 336.5L1929.5 336.5L1931.5 336.5M1970.3 336.5L1972.3 336.5L1974.3 336.5L1976.3 336.5L1978.3 336.5L1980.3 336.5L1982.3 336.5L1984.3 336.5L1986.3 336.5L1988.3 336.5L1990.3 336.5L1992.3 336.5L1994.3 336.5M2032.8 336.5L2034.8 336.5L2036.8 336.5L2038.8 336.5L2040.8 336.5L2042.8 336.5L2044.8 336.5L2046.8 336.5L2047.0 336.5" stroke="#00ff00" stroke-width="11"/><g fill="#00ff00" stroke="none"><circle cx="492.1" cy="336.5" r="5.5"/><circle cx="554.7" cy="336.5" r="5.5"/><circle cx="616.7" cy="336.5" r="5.5"/><circle cx="679.4" cy="336.3" r="5.5"/><circle cx="741.8" cy="335.3" r="5.5"/><circle cx="803.0" cy="332.0" r="5.5"/><circle cx="864.7" cy="325.5" r="5.5"/><circle cx="925.7" cy="316.5" r="5.5"/><circle cx="987.2" cy="315.4" r="5.5"/><circle cx="1042.1" cy="340.4" r="5.5"/><circle cx="1078.6" cy="390.2" r="5.5"/><circle cx="1103.5" cy="447.4" r="5.5"/><circle cx="1122.1" cy="507.3" r="5.5"/><circle cx="1137.7" cy="567.5" r="5.5"/><circle cx="1150.6" cy="629.0" r="5.5"/><circle cx="1161.8" cy="690.4" r="5.5"/><circle cx="1173.5" cy="751.8" r="5.5"/><circle cx="1181.9" cy="814.0" r="5.5"/><circle cx="1191.5" cy="875.8" r="5.5"/><circle cx="1200.4" cy="937.7" r="5.5"/><circle cx="1208.3" cy="999.8" r="5.5"/><circle cx="1216.5" cy="1061.9" r="5.5"/><circle cx="1225.6" cy="1123.7" r="5.5"/><circle cx="1234.4" cy="1186.0" r="5.5"/><circle cx="1253.6" cy="1224.1" r="5.5"/><circle cx="1264.4" cy="1162.5" r="5.5"/><circle cx="1272.5" cy="1100.3" r="5.5"/><circle cx="1281.1" cy="1038.4" r="5.5"/><circle cx="1289.3" cy="976.4" r="5.5"/><circle cx="1297.4" cy="915.1" r="5.5"/><circle cx="1306.3" cy="852.4" r="5.5"/><circle cx="1316.1" cy="790.2" r="5.5"/><circle cx="1326.6" cy="728.7" r="5.5"/><circle cx="1337.3" cy="666.6" r="5.5"/><circle cx="1349.4" cy="605.6" r="5.5"/><circle cx="1362.6" cy="544.3" r="5.5"/><circle cx="1379.4" cy="483.8" r="5.5"/><circle cx="1399.8" cy="425.3" r="5.5"/><circle cx="1428.7" cy="369.6" r="5.5"/><circle cx="1473.1" cy="326.4" r="5.5"/><circle cx="1533.3" cy="313.6" r="5.5"/><circle cx="1594.5" cy="321.0" r="5.5"/><circle cx="1656.8" cy="329.1" r="5.5"/><circle cx="1719.6" cy="333.9" r="5.5"/><circle cx="1782.2" cy="336.2" r="5.5"/><circle cx="1888.1" cy="336.5" r="5.5"/><circle cx="1950.7" cy="336.5" r="5.5"/><circle cx="2013.3" cy="336.5" r="5.5"/></g>
</g>
<g font-size="102">
<text x="419.5" y="99.0" text-anchor="end">0.005</text><text x="421.5" y="366.2" text-anchor="end">0.000</text><text x="420.5" y="633.4" text-anchor="end">-0.005</text><text x="421.5" y="900.6" text-anchor="end">-0.010</text><text x="421.5" y="1167.8" text-anchor="end">-0.015</text><text x="421.5" y="1435.0" text-anchor="end">-0.020</text><text x="448.5" y="1510.3" text-anchor="middle">-80</text><text x="648.2" y="1510.3" text-anchor="middle">-60</text><text x="847.9" y="1510.3" text-anchor="middle">-40</text><text x="1047.6" y="1510.3" text-anchor="middle">-20</text><text x="1247.2" y="1510.3" text-anchor="middle">0</text><text x="1446.9" y="1510.3" text-anchor="middle">20</text><text x="1646.6" y="1510.3" text-anchor="middle">40</text><text x="1846.3" y="1510.3" text-anchor="middle">60</text><text x="2046.0" y="1510.3" text-anchor="middle">80</text>
</g>
<text x="1247.2" y="1673" font-size="102.5" text-anchor="middle" textLength="462.7" lengthAdjust="spacingAndGlyphs">Distance/m</text>
<text transform="translate(99,706) rotate(-90)" font-size="102.5" text-anchor="middle" textLength="665" lengthAdjust="spacingAndGlyphs">Displacement/m</text>
<g fill="none" stroke-linecap="round">
<line x1="1296" y1="1173" x2="1418" y2="1173" stroke="#ff0000" stroke-width="10.5" stroke-dasharray="13.5 22.5"/>
<line x1="1296" y1="1240" x2="1418" y2="1240" stroke="#000" stroke-width="10.5" stroke-dasharray="34 46"/>
<line x1="1296" y1="1306.5" x2="1418" y2="1306.5" stroke="#00ff00" stroke-width="11" stroke-dasharray="24 19 0 19.5"/>
</g>
<g font-size="55.5">
<text x="1429.3" y="1191.4" textLength="415" lengthAdjust="spacing">Numerical solution</text>
<text x="1431" y="1258.5" textLength="542.6" lengthAdjust="spacing">Winkler (Yu et al., 2012)</text>
<text x="1431" y="1325.3" textLength="595.6" lengthAdjust="spacing">Winkler (Proposed method)</text>
</g>
</svg>
</body></html>
